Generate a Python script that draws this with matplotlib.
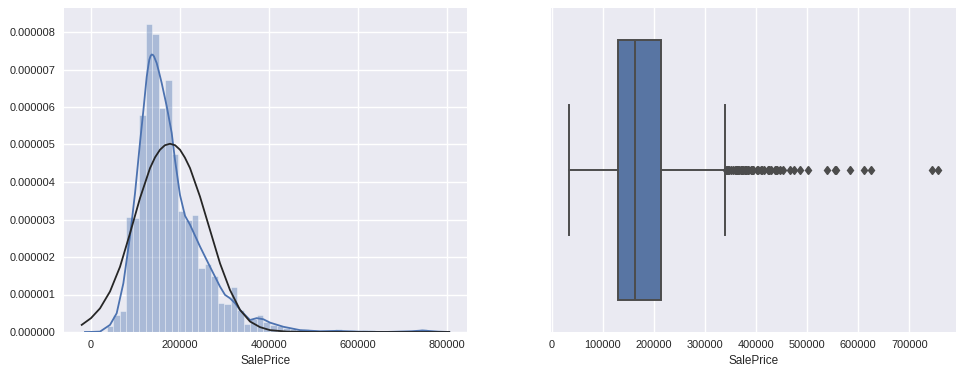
import numpy as np
import matplotlib
matplotlib.use("Agg")
import matplotlib.pyplot as plt
from matplotlib.ticker import MultipleLocator, FormatStrFormatter

# SalePrice 分布（ヒストグラムの高さは密度, 単位 1e-6）
price_min = 34900
price_max = 755000
n_bins = 49
hist_density = [0.16, 0.45, 0.56, 3.06, 3.03, 5.79, 8.21, 7.95, 5.97, 6.72,
                4.75, 3.23, 2.99, 3.12, 1.71, 1.82, 1.49, 0.78, 0.75, 1.20,
                0.59, 0.21, 0.35, 0.45, 0.28, 0.20, 0.16, 0.12, 0.09, 0.05,
                0.09, 0.05, 0.0, 0.0, 0.05, 0.09, 0.0, 0.05, 0.0, 0.05,
                0.05, 0.0, 0.0, 0.0, 0.0, 0.0, 0.0, 0.0, 0.09]

# KDE 曲線（読み取り値）
kde_x = [-13500, -5000, 20200, 42700, 57700, 72700, 87600, 98900, 110100, 117600,
         125100, 128500, 131000, 133800, 136300, 139000, 141500, 147600, 153000,
         158800, 170100, 181300, 188700, 200000, 211200, 222500, 244900, 267400,
         289900, 301100, 312300, 323600, 334800, 357300, 372300, 387200, 402200,
         432100, 469600, 514600, 552000, 600000, 660000, 720000, 745000, 780000,
         805000]
kde_y = [0.0, 0.0, 0.01, 0.19, 0.50, 1.30, 2.55, 3.70, 5.05, 5.90,
         6.80, 7.08, 7.26, 7.36, 7.40, 7.39, 7.35, 7.17, 6.92,
         6.64, 6.02, 5.31, 4.59, 3.65, 3.10, 2.86, 2.28, 1.74,
         1.21, 0.99, 0.90, 0.77, 0.59, 0.32, 0.37, 0.34, 0.25,
         0.14, 0.05, 0.02, 0.03, 0.01, 0.0, 0.02, 0.04, 0.01,
         0.0]

# 正規分布フィット曲線（読み取り値）
fit_x = [-20900, 0, 20200, 42700, 65200, 87600, 110100, 132600, 144000, 155000,
         166000, 177500, 189000, 200000, 211000, 222500, 244900, 267400, 289900,
         312300, 334800, 357300, 379700, 402200, 440000, 500000, 600000, 700000,
         805000]
fit_y = [0.19, 0.37, 0.63, 1.08, 1.74, 2.63, 3.57, 4.37, 4.66, 4.86,
         4.98, 5.02, 4.98, 4.86, 4.65, 4.37, 3.61, 2.72, 1.83,
         1.12, 0.59, 0.28, 0.13, 0.05, 0.01, 0.0, 0.0, 0.0,
         0.0]

# 箱ひげ図の統計量
q1 = 129975
median = 163000
q3 = 214000
whisker_lo = 34900
whisker_hi = 340000
outliers = [341000, 342643, 345000, 345000, 348000, 350000, 354000, 359100, 360000,
            361919, 363000, 364000, 367294, 369900, 370878, 372402, 372500, 375000,
            377426, 377500, 378500, 380000, 381000, 383970, 384500, 385000, 390000,
            392000, 392500, 394432, 394617, 402000, 402861, 410000, 412500, 415298,
            423000, 424870, 426000, 430000, 437154, 438780, 440000, 446261, 451950,
            466500, 475000, 485000, 501837, 538000, 555000, 556581, 582933, 611657,
            625000, 745000, 755000]

blue = '#4C72B0'
box_face = '#5875A3'
gray = '#4c4c4c'
bg = '#EAEAF2'
text_col = '#262626'

plt.rcParams['font.family'] = ['Liberation Sans', 'DejaVu Sans']

fig = plt.figure(figsize=(9.62, 3.74), dpi=100)
ax1 = fig.add_axes([64/962, 42/374, 403/962, 324/374])
ax2 = fig.add_axes([551/962, 42/374, 405/962, 324/374])

for ax in (ax1, ax2):
    ax.set_facecolor(bg)
    for s in ax.spines.values():
        s.set_visible(False)
    ax.grid(True, color='white', linewidth=1.0)
    ax.set_axisbelow(True)
    ax.tick_params(length=0, labelsize=7.9, labelcolor=text_col, pad=6)

# 左: ヒストグラム + KDE + 正規分布
edges = np.linspace(price_min, price_max, n_bins + 1)
heights = np.array(hist_density) * 1e-6
ax1.bar(edges[:-1], heights, width=np.diff(edges), align='edge',
        color=blue, alpha=0.4, edgecolor='white', linewidth=0.6)
ax1.plot(kde_x, np.array(kde_y) * 1e-6, color=blue, lw=1.3)
ax1.plot(fit_x, np.array(fit_y) * 1e-6, color='#262626', lw=1.3)
ax1.set_xlim(-60700, 844900)
ax1.set_ylim(0, 8.64e-6)
ax1.xaxis.set_major_locator(MultipleLocator(200000))
ax1.yaxis.set_major_locator(MultipleLocator(1e-6))
ax1.yaxis.set_major_formatter(FormatStrFormatter('%.6f'))
ax1.xaxis.set_major_formatter(FormatStrFormatter('%d'))
ax1.set_xlabel('SalePrice', fontsize=8.5, color=text_col, labelpad=3)

# 右: 箱ひげ図
stats = [{'med': median, 'q1': q1, 'q3': q3, 'whislo': whisker_lo,
          'whishi': whisker_hi, 'fliers': outliers}]
ax2.bxp(stats, positions=[0], widths=0.8, orientation='horizontal',
        patch_artist=True, capwidths=0.4,
        boxprops=dict(facecolor=box_face, edgecolor=gray, linewidth=1.4),
        medianprops=dict(color=gray, linewidth=1.4),
        whiskerprops=dict(color=gray, linewidth=1.4),
        capprops=dict(color=gray, linewidth=1.4),
        flierprops=dict(marker='d', markerfacecolor=gray, markeredgecolor=gray,
                        markersize=4.5, linestyle='none'))
ax2.set_ylim(0.5, -0.5)
ax2.set_yticks([])
ax2.set_xlim(-1100, 791000)
ax2.xaxis.set_major_locator(MultipleLocator(100000))
ax2.xaxis.set_major_formatter(FormatStrFormatter('%d'))
ax2.set_xlabel('SalePrice', fontsize=8.5, color=text_col, labelpad=3)

fig.savefig('out.png', dpi=100)
